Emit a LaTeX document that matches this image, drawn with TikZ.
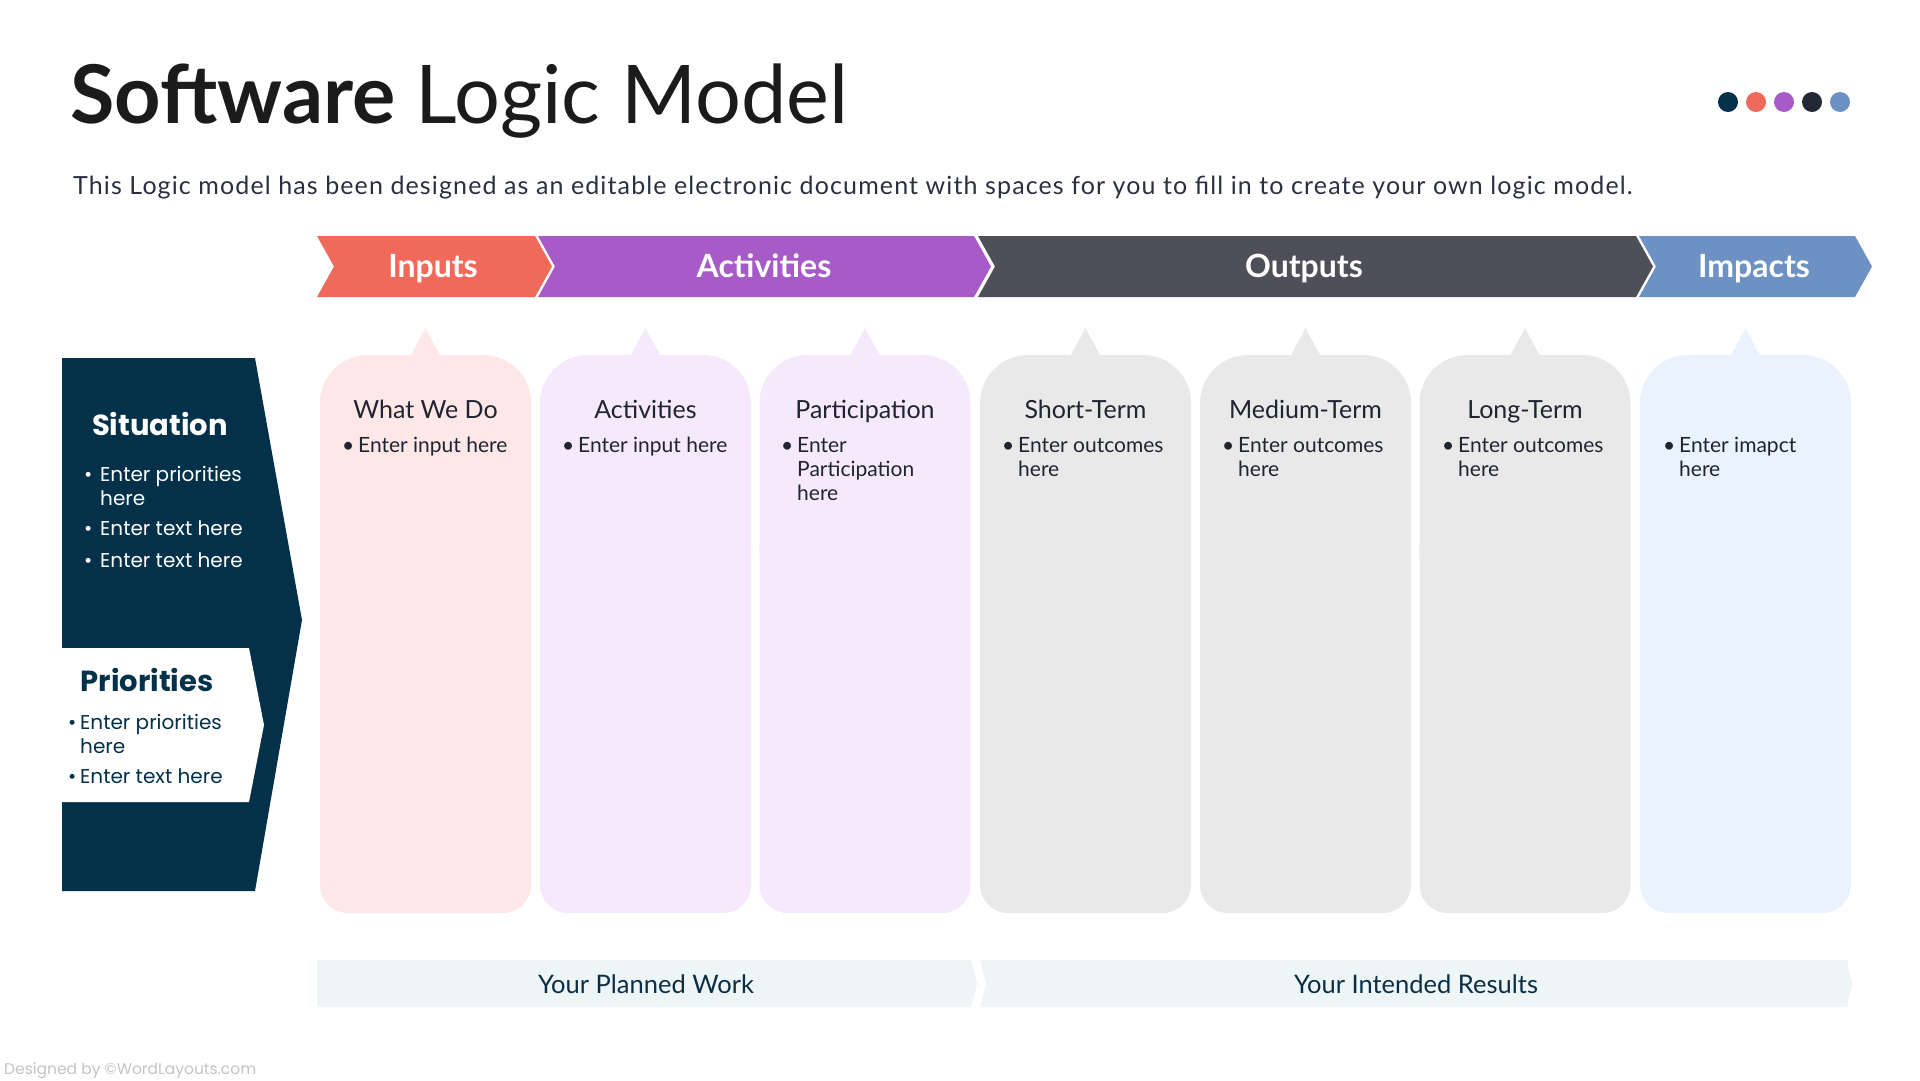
\documentclass[tikz,border=0pt]{standalone}
\usepackage{fontspec}
\setmainfont{Lato}
\newfontfamily\poppins{Poppins}
\usetikzlibrary{positioning}

\definecolor{navy}{HTML}{03314A}
\definecolor{coral}{HTML}{EF6A5A}
\definecolor{violet}{HTML}{A65BC8}
\definecolor{slate}{HTML}{4E4F58}
\definecolor{steel}{HTML}{6C91C2}
\definecolor{inkdark}{HTML}{222836}
\definecolor{ink}{HTML}{1F2430}
\definecolor{titleink}{HTML}{1B1B1B}
\definecolor{subink}{HTML}{2B3040}
\definecolor{pinkbg}{HTML}{FDE8E7}
\definecolor{lilacbg}{HTML}{F6E9FC}
\definecolor{greybg}{HTML}{E9E9E9}
\definecolor{bluebg}{HTML}{EAF3FD}
\definecolor{barbg}{HTML}{EDF5F7}
\definecolor{barink}{HTML}{0B2E45}
\definecolor{footgrey}{HTML}{C4C4C4}

\newcommand{\fs}[2]{\fontsize{#1}{#2}\selectfont}
\newcommand{\bul}{\makebox[16pt][l]{\textbullet}}
\newcommand{\bulgap}{\hspace*{16pt}}

\begin{document}
\begin{tikzpicture}[x=1pt, y=-1pt,
    headlbl/.style={anchor=base, text=white, font=\fs{32}{36}\bfseries},
    coltitle/.style={anchor=base, text=ink, font=\fs{25}{30}},
    colitem/.style={anchor=base west, align=left, inner sep=0, text=ink, font=\fs{21}{24}},
    sitem/.style={anchor=base west, align=left, inner sep=0, font=\poppins\fs{20}{24}},
    barlbl/.style={anchor=base, text=barink, font=\fs{25.5}{28}}]
  \useasboundingbox (0,0) rectangle (1920,1080);
  \fill[white] (0,0) rectangle (1920,1080);

  % heading
  \node[anchor=base west, inner sep=0, text=titleink, font=\fs{81}{96}] (title) at (70,123)
    {{\bfseries Software} Logic Model};
  \node[anchor=base west, inner sep=0, text=subink, font=\fs{25}{28}\addfontfeature{LetterSpace=4.5}] (subtitle) at (73,194)
    {This Logic model has been designed as an editable electronic document with spaces for you to fill in to create your own logic model.};
  \foreach \c [count=\n] in {navy,coral,violet,inkdark,steel}
    \node[circle, fill=\c, minimum size=20pt, inner sep=0] (dot\n) at (1700+28*\n,102) {};

  % header chevrons
  \foreach \nm/\xa/\xb/\col/\tx/\lbl in {inp/317/535/coral/433/Inputs,
      act/538/974/violet/764/Activities, outp/978/1636/slate/1304/Outputs,
      imp/1639/1855/steel/1754/Impacts}{
    \fill[\col] (\xa,236) -- (\xb,236) -- (\xb+17,266.5) -- (\xb,297) -- (\xa,297) -- (\xa+17,266.5) -- cycle;
    \node[headlbl] (\nm) at (\tx,277) {\lbl};
  }

  % situation / priorities panel
  \fill[navy] (62,358) -- (255,358) -- (302,620) -- (255,891) -- (62,891) -- cycle;
  \fill[white] (62,648) -- (249,648) -- (264,725) -- (249,802) -- (62,802) -- cycle;
  \node[anchor=base, text=white, font=\poppins\fs{29}{34}\bfseries] (situation) at (160,435) {Situation};
  \node[sitem, text=white] (s1) at (84,505) {\bul Enter priorities\\\bulgap here};
  \node[sitem, text=white] (s2) at (84,535) {\bul Enter text here};
  \node[sitem, text=white] (s3) at (84,567) {\bul Enter text here};
  \node[anchor=base, text=navy, font=\poppins\fs{29}{34}\bfseries] (priorities) at (147,691) {Priorities};
  \node[sitem, text=navy] (p1) at (68,753) {\makebox[12pt][l]{\textbullet}Enter priorities\\\hspace*{12pt}here};
  \node[sitem, text=navy] (p2) at (68,783) {\makebox[12pt][l]{\textbullet}Enter text here};

  % columns
  \foreach \k/\cx/\bg in {1/425.5/pinkbg, 2/645.5/lilacbg, 3/865/lilacbg, 4/1085.5/greybg,
      5/1305.5/greybg, 6/1525/greybg, 7/1745.5/bluebg}{
    \fill[\bg, rounded corners=28] (\cx-105.5,520) rectangle (\cx+105.5,913);
    \fill[\bg, rounded corners=48] (\cx-105.5,355) rectangle (\cx+105.5,600);
    \fill[\bg] (\cx-15,356) -- (\cx,328) -- (\cx+15,356) -- cycle;
    \coordinate (col\k) at (\cx,355);
  }
  \node[coltitle] (t1) at (425.5,418) {What We Do};
  \node[coltitle] (t2) at (645.5,418) {Activities};
  \node[coltitle] (t3) at (865,418) {Participation};
  \node[coltitle] (t4) at (1085.5,418) {Short-Term};
  \node[coltitle] (t5) at (1305.5,418) {Medium-Term};
  \node[coltitle] (t6) at (1525,418) {Long-Term};
  \node[colitem] (i1) at (342,452) {\bul Enter input here};
  \node[colitem] (i2) at (562,452) {\bul Enter input here};
  \node[colitem] (i3) at (781,500) {\bul Enter\\\bulgap Participation\\\bulgap here};
  \node[colitem] (i4) at (1002,476) {\bul Enter outcomes\\\bulgap here};
  \node[colitem] (i5) at (1222,476) {\bul Enter outcomes\\\bulgap here};
  \node[colitem] (i6) at (1442,476) {\bul Enter outcomes\\\bulgap here};
  \node[colitem] (i7) at (1663,476) {\bul Enter imapct\\\bulgap here};

  % bottom bars
  \fill[barbg] (317,960) -- (971,960) -- (977,984) -- (971,1007) -- (317,1007) -- cycle;
  \fill[barbg] (980,960) -- (1847,960) -- (1852,984) -- (1847,1007) -- (980,1007) -- (986,984) -- cycle;
  \node[barlbl] (planned) at (646,993) {Your Planned Work};
  \node[barlbl] (intended) at (1416,993) {Your Intended Results};

  \node[anchor=base west, inner sep=0, text=footgrey, font=\poppins\fs{15.5}{18}] (credit) at (4,1074)
    {Designed by ©WordLayouts.com};
\end{tikzpicture}
\end{document}
